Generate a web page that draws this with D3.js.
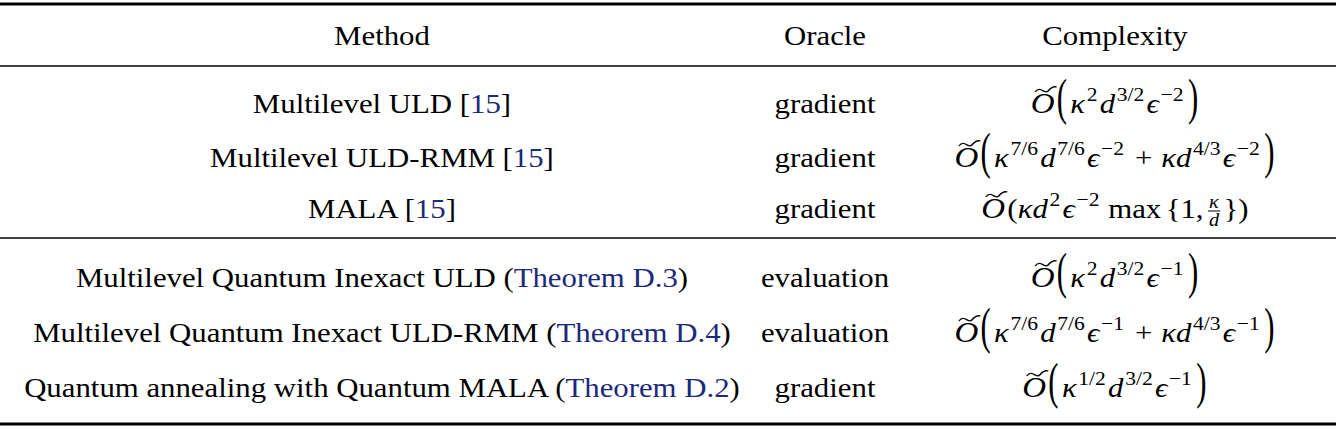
<!DOCTYPE html>
<html><head><meta charset="utf-8">
<script src="https://cdn.jsdelivr.net/npm/d3@7"></script>
<style>body{margin:0;background:#fff}</style></head>
<body><svg id="c" width="1336" height="429"></svg>
<script>
const headers = ["Method","Oracle","Complexity"];
const methods = ["Multilevel ULD","Multilevel ULD-RMM","MALA","Multilevel Quantum Inexact ULD","Multilevel Quantum Inexact ULD-RMM","Quantum annealing with Quantum MALA"];
const refs = ["[15]","[15]","[15]","(Theorem D.3)","(Theorem D.4)","(Theorem D.2)"];
const oracles = ["gradient","gradient","gradient","evaluation","evaluation","gradient"];
// formula tokens: O = tilde O, L/R = big parens, i: italic, n: normal, s: superscript, f: fraction, p: binary op
const complexities = [
 [["O"],["L"],["i","κ"],["s","2"],["i","d"],["s","3/2"],["i","ϵ"],["s","−2"],["R"]],
 [["O"],["L"],["i","κ"],["s","7/6"],["i","d"],["s","7/6"],["i","ϵ"],["s","−2"],["p","+"],["i","κd"],["s","4/3"],["i","ϵ"],["s","−2"],["R"]],
 [["O"],["n","("],["i","κd"],["s","2"],["i","ϵ"],["s","−2"],["m","max"],["n","{1,"],["f","κ","d"],["n","})"]],
 [["O"],["L"],["i","κ"],["s","2"],["i","d"],["s","3/2"],["i","ϵ"],["s","−1"],["R"]],
 [["O"],["L"],["i","κ"],["s","7/6"],["i","d"],["s","7/6"],["i","ϵ"],["s","−1"],["p","+"],["i","κd"],["s","4/3"],["i","ϵ"],["s","−1"],["R"]],
 [["O"],["L"],["i","κ"],["s","1/2"],["i","d"],["s","3/2"],["i","ϵ"],["s","−1"],["R"]]
];
const FS=28, SX=1.1, FONT="'Liberation Serif','DejaVu Serif',serif", LINK="#1b2a7a";
const svg=d3.select("#c");
const x=d3.scaleOrdinal().domain(headers).range([382,825,1115]);
const rowY=d3.scaleOrdinal().domain(d3.range(6)).range([103,157,208,277,332,387]);
const ruleY=d3.scaleOrdinal().domain(["top","head","mid","bot"]).range([4,66,238,424]);
const ruleW={top:2.8,head:1.6,mid:1.6,bot:2.8};
svg.selectAll("line.r").data(ruleY.domain()).join("line").attr("x1",0).attr("x2",1336)
 .attr("y1",d=>ruleY(d)).attr("y2",d=>ruleY(d)).attr("stroke","#000").attr("stroke-width",d=>ruleW[d]);
const T=(g)=>g.attr("font-family",FONT).attr("font-size",FS).attr("fill","#000");
const cell=(cx,cy)=>svg.append("g").attr("transform",`translate(${cx},${cy}) scale(${SX},1)`);
headers.forEach(h=>cell(x(h),35).append("text").call(T).attr("dy","0.35em").attr("text-anchor","middle").text(h));
methods.forEach((m,i)=>{
 const t=cell(x("Method"),rowY(i)).append("text").call(T).attr("dy","0.35em").attr("text-anchor","middle");
 t.append("tspan").text(m+" ");
 const r=refs[i];
 t.append("tspan").text(r[0]);
 t.append("tspan").attr("fill",LINK).text(r.slice(1,-1));
 t.append("tspan").text(r[r.length-1]);
 cell(x("Oracle"),rowY(i)).append("text").call(T).attr("dy","0.35em").attr("text-anchor","middle").text(oracles[i]);
});
function formula(toks,cx,cy){
 const outer=svg.append("g").attr("transform",`translate(${cx},${cy}) scale(${SX},1)`);
 const g=outer.append("g"); let c=0; const base=10;
 const add=(s,opt={})=>g.append("text").attr("font-family",FONT).attr("font-size",opt.fs||FS)
   .attr("font-style",opt.it?"italic":"normal").attr("x",c).attr("y",opt.y!==undefined?opt.y:base).text(s);
 const W=t=>t.node().getComputedTextLength();
 toks.forEach(tk=>{
  const k=tk[0];
  if(k==="O"){const t=add("O",{it:true,fs:FS+2});const w=W(t);
    const tx=c+4, ty=base-24, tw=w-2;
    g.append("path").attr("d",`M${tx},${ty+3} C${tx+tw*0.25},${ty-4} ${tx+tw*0.45},${ty+6} ${tx+tw*0.6},${ty+2} S${tx+tw*0.85},${ty-3} ${tx+tw},${ty-2}`)
     .attr("fill","none").attr("stroke","#000").attr("stroke-width",1.3);
    c+=w+2;}
  else if(k==="L"||k==="R"){const t=g.append("text").attr("font-family",FONT).attr("font-size",FS)
     .attr("transform",`translate(${c+(k==="L"?0:2)},0) scale(1,1.8)`).attr("y",6).text(k==="L"?"(":")");c+=W(t)+3;}
  else if(k==="i"||k==="n"){const t=add(tk[1],{it:k==="i"});c+=W(t)+(k==="i"?1.5:0);}
  else if(k==="m"){c+=6;const t=add(tk[1]);c+=W(t)+4;}
  else if(k==="p"){c+=8;const t=add(tk[1]);c+=W(t)+8;}
  else if(k==="s"){const t=add(tk[1],{fs:FS*0.7,y:base-12});c+=W(t)+2;}
  else if(k==="f"){c+=5;const a=add(tk[1],{it:true,fs:FS*0.66,y:base-10});const b=add(tk[2],{it:true,fs:FS*0.66,y:base+8});
    const w=Math.max(W(a),W(b));
    g.append("line").attr("x1",c-1).attr("x2",c+w+1).attr("y1",base-7).attr("y2",base-7).attr("stroke","#000").attr("stroke-width",1);c+=w+4;}
 });
 g.attr("transform",`translate(${-c/2},0)`);
}
complexities.forEach((cx,i)=>formula(cx,x("Complexity"),rowY(i)));
</script></body></html>
